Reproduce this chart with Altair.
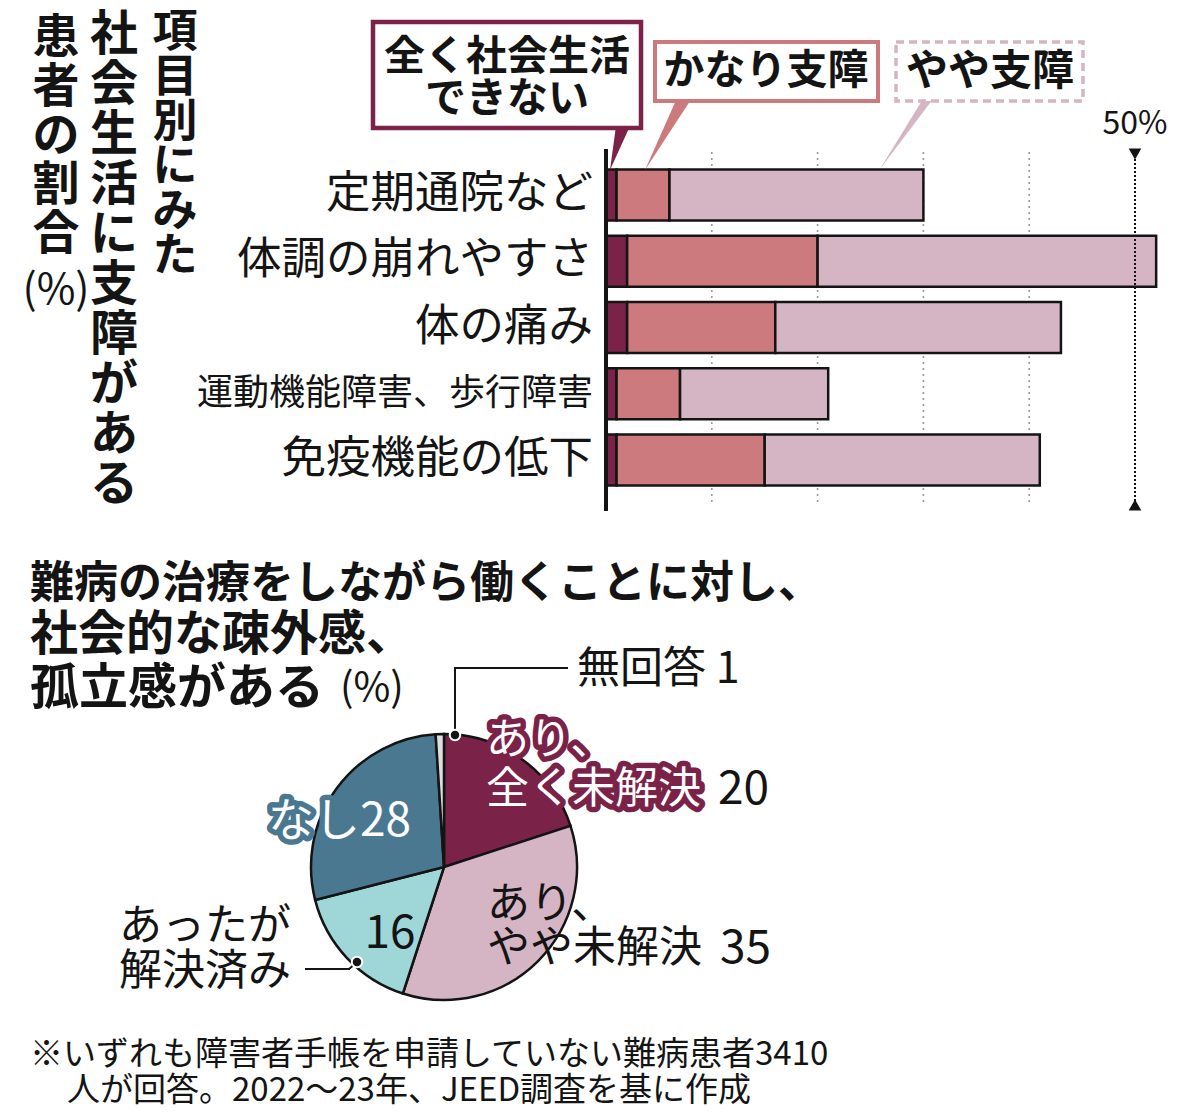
import pandas as pd
import altair as alt

FONT = "Noto Sans CJK JP"
INK = "#141414"

# 項目別にみた社会生活に支障がある患者の割合 (%)
items = ["定期通院など", "体調の崩れやすさ", "体の痛み", "運動機能障害、歩行障害", "免疫機能の低下"]
level_names = ["全く社会生活できない", "かなり支障", "やや支障"]
level_colors = ["#7b2248", "#cd7a7f", "#d5b5c4"]
severe = [1, 2, 2, 1, 1]
considerable = [5, 18, 14, 6, 14]
somewhat = [24, 32, 27, 14, 26]
grid_ticks = [10, 20, 30, 40]
max_tick = 50

# 社会的な疎外感、孤立感がある (%)
answers = ["あり、全く未解決", "あり、やや未解決", "あったが解決済み", "なし", "無回答"]
shares = [20, 35, 16, 28, 1]
answer_colors = ["#7b2248", "#d5b5c4", "#9fd6d8", "#4a7891", "#dedede"]


def P(v):
    # page pixel -> chart pixel (8px body margin)
    return v - 8


rows = []
for i, item in enumerate(items):
    for k, vals in enumerate([severe, considerable, somewhat]):
        rows.append({"item": item, "level": level_names[k], "pct": vals[i],
                     "rank": k, "color": level_colors[k]})
bar_df = pd.DataFrame(rows)

pie_df = pd.DataFrame({"answer": answers, "share": shares,
                       "rank": list(range(len(answers))), "color": answer_colors})

x_scale = alt.Scale(domain=[0, max_tick], range=[P(606), P(1135)], nice=False, zero=True)
y_scale = alt.Scale(domain=items, range=[P(162), P(493)], paddingInner=0.23, paddingOuter=0.115)


def note(txt, x, y, size, weight="normal", align="left", color=INK, baseline="middle", **kw):
    return alt.Chart(pd.DataFrame({"t": [txt]})).mark_text(
        font=FONT, fontSize=size, fontWeight=weight, align=align,
        baseline=baseline, color=color, **kw).encode(
        text="t:N", x=alt.value(P(x)), y=alt.value(P(y)))


def column(txt, x, top, size, pitch):
    # vertical (tategaki) text: one character per row
    df = pd.DataFrame({"c": list(txt)})
    df["py"] = [P(top + pitch / 2 + i * pitch) for i in range(len(df))]
    return alt.Chart(df).mark_text(
        font=FONT, fontSize=size, fontWeight="bold", align="center", baseline="middle", color=INK).encode(
        text="c:N", x=alt.value(P(x)), y=alt.Y("py:Q", scale=None, axis=None))


def seg(x1, y1, x2, y2, color=INK, width=2, **kw):
    return alt.Chart(pd.DataFrame({"k": [0]})).mark_rule(color=color, strokeWidth=width, **kw).encode(
        x=alt.value(P(x1)), y=alt.value(P(y1)), x2=alt.value(P(x2)), y2=alt.value(P(y2)))


def box(x1, y1, x2, y2, color, width, **kw):
    return alt.Chart(pd.DataFrame({"k": [0]})).mark_rect(fill="white", stroke=color, strokeWidth=width, **kw).encode(
        x=alt.value(P(x1)), y=alt.value(P(y1)), x2=alt.value(P(x2)), y2=alt.value(P(y2)))


def wedge(path, x, y, color):
    # custom symbol path, size=4 -> path units are pixels
    return alt.Chart(pd.DataFrame({"k": [0]})).mark_point(
        shape=path, size=4, filled=True, color=color, opacity=1, strokeWidth=0).encode(
        x=alt.value(P(x)), y=alt.value(P(y)))


def dot(x, y):
    return alt.Chart(pd.DataFrame({"k": [0]})).mark_point(
        shape="circle", size=110, filled=True, color=INK, opacity=1, stroke="white", strokeWidth=2).encode(
        x=alt.value(P(x)), y=alt.value(P(y)))


# ---- bar chart ----
grid = alt.Chart(pd.DataFrame({"tick": grid_ticks})).mark_rule(
    color="#9a9a9a", strokeDash=[2, 4], strokeWidth=1.6).encode(
    x=alt.X("tick:Q", scale=x_scale, axis=None), y=alt.value(P(152)), y2=alt.value(P(506)))

bars = alt.Chart(bar_df).mark_bar(stroke=INK, strokeWidth=2.5).encode(
    x=alt.X("pct:Q", stack="zero", scale=x_scale, axis=None),
    y=alt.Y("item:N", sort=items, scale=y_scale, axis=None),
    color=alt.Color("color:N", scale=None),
    order=alt.Order("rank:Q"),
)

zero_line = alt.Chart(pd.DataFrame({"tick": [0]})).mark_rule(color=INK, strokeWidth=4).encode(
    x=alt.X("tick:Q", scale=x_scale, axis=None), y=alt.value(P(149)), y2=alt.value(P(511)))

max_df = pd.DataFrame({"tick": [max_tick], "lab": [f"{max_tick}%"]})
max_line = alt.Chart(max_df).mark_rule(color=INK, strokeDash=[2, 2], strokeWidth=2).encode(
    x=alt.X("tick:Q", scale=x_scale, axis=None), y=alt.value(P(155)), y2=alt.value(P(503)))
max_top = alt.Chart(max_df).mark_point(shape="triangle-down", size=160, filled=True, color=INK, opacity=1).encode(
    x=alt.X("tick:Q", scale=x_scale, axis=None), y=alt.value(P(154)))
max_bot = alt.Chart(max_df).mark_point(shape="triangle-up", size=160, filled=True, color=INK, opacity=1).encode(
    x=alt.X("tick:Q", scale=x_scale, axis=None), y=alt.value(P(505)))
max_lab = alt.Chart(max_df).mark_text(font=FONT, fontSize=32, color=INK, baseline="middle").encode(
    x=alt.X("tick:Q", scale=x_scale, axis=None), y=alt.value(P(124)), text="lab:N")

cat_labels = alt.Chart(pd.DataFrame({"item": items})).mark_text(
    font=FONT, align="right", baseline="middle", color=INK).encode(
    y=alt.Y("item:N", sort=items, scale=y_scale, axis=None),
    x=alt.value(P(593)),
    text="item:N",
    size=alt.condition(alt.datum.item == items[3], alt.value(36), alt.value(44.5)),
)

# vertical title columns
titles = [
    column("項目別にみた", 175, 11, 45, 44.7),
    column("社会生活に支障がある", 114, 11, 48, 50),
    column("患者の割合", 56, 14, 47, 49),
    note("(%)", 56, 291, 42, align="center"),
]

# legend call-outs
legend = [
    wedge("M0,0 L6,-44 L20,-44 Z", 610, 170, level_colors[0]),
    wedge("M0,0 L32,-72 L47,-72 Z", 645, 170, level_colors[1]),
    wedge("M0,0 L43,-70 L53,-70 Z", 880, 169, level_colors[2]),
    box(373, 22, 641, 128, level_colors[0], 4.5),
    box(655, 42, 878, 101, level_colors[1], 4),
    box(896, 42, 1083, 101, level_colors[2], 3.5, strokeDash=[8, 5]),
    note("全く社会生活", 507, 58, 41, weight="bold", align="center"),
    note("できない", 507, 100, 41, weight="bold", align="center"),
    note("かなり支障", 766, 72, 41, weight="bold", align="center"),
    note("やや支障", 990, 72, 42, weight="bold", align="center"),
]

# ---- pie chart ----
pie_title = [
    note("難病の治療をしながら働くことに対し、", 30, 585, 44, weight="bold"),
    note("社会的な疎外感、", 30, 636, 48, weight="bold"),
    note("孤立感がある", 30, 689, 49, weight="bold"),
    note("(%)", 340, 689, 40),
]

pie = alt.Chart(pie_df).mark_arc(outerRadius=133, stroke=INK, strokeWidth=2.5).encode(
    theta=alt.Theta("share:Q", stack=True),
    order=alt.Order("rank:Q"),
    color=alt.Color("color:N", scale=None),
    x=alt.value(P(444)),
    y=alt.value(P(867)),
)

halo = dict(strokeWidth=11, strokeJoin="round")
pie_labels = [
    note("あり、", 486, 741, 43, color=answer_colors[0], stroke=answer_colors[0], **halo),
    note("全く未解決", 486, 790, 43, color=answer_colors[0], stroke=answer_colors[0], **halo),
    note("あり、", 486, 741, 43, color="white"),
    note("全く未解決", 486, 790, 43, color="white"),
    note(str(shares[0]), 718, 790, 46),
    note("あり、", 487, 905, 43),
    note("やや未解決", 487, 949, 43),
    note(str(shares[1]), 720, 949, 46),
    note(str(shares[2]), 390, 934, 46, align="center"),
    note("なし" + str(shares[3]), 268, 822, 46, color=answer_colors[3], stroke=answer_colors[3], **halo),
    note("なし" + str(shares[3]), 268, 822, 46, color="white"),
    note("あったが", 119, 927, 43),
    note("解決済み", 119, 972, 43),
    note("無回答 " + str(shares[4]), 577, 670, 43),
    seg(455, 668, 455, 733),
    seg(454, 668, 568, 668),
    dot(455, 735),
    seg(305, 969, 350, 969),
    seg(349, 969, 356, 963),
    dot(357, 962),
]

footnote = [
    note("※いずれも障害者手帳を申請していない難病患者3410", 30, 1055, 33),
    note("人が回答。2022～23年、JEED調査を基に作成", 67, 1091, 33),
]

chart = alt.layer(
    grid, bars, zero_line, max_line, max_top, max_bot, max_lab, cat_labels,
    *titles, *legend, *pie_title, pie, *pie_labels, *footnote,
).properties(
    width=1184, height=1101, autosize=alt.AutoSizeParams(type="none"), padding=0
).configure_view(stroke=None)

chart.save("out.html", embed_options={"renderer": "svg", "actions": False})
